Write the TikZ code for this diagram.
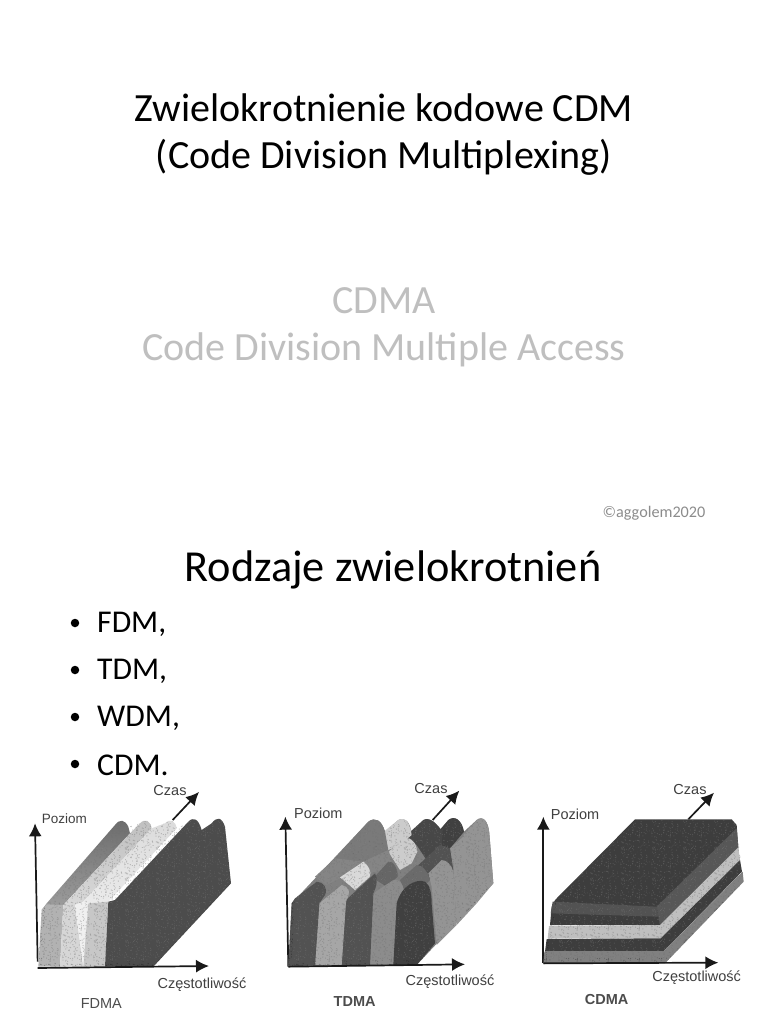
\documentclass[tikz,border=0pt]{standalone}
\usepackage{fontspec}
\setmainfont{Carlito}
\newfontfamily\arialf{Liberation Sans}
\usetikzlibrary{arrows.meta,patterns}
\definecolor{gA}{gray}{0.75}
\pgfmathsetseed{7}
\pgfdeclarepatternformonly{grainp}{\pgfqpoint{0pt}{0pt}}{\pgfqpoint{31pt}{31pt}}{\pgfqpoint{31pt}{31pt}}{%
 \foreach \i in {1,...,130}{
  \pgfmathsetmacro{\gx}{rnd*30}\pgfmathsetmacro{\gy}{rnd*30}
  \pgfpathrectangle{\pgfpoint{\gx pt}{\gy pt}}{\pgfqpoint{.9pt}{.9pt}}
 }
 \pgfusepath{fill}
}
\tikzset{x=1pt,y=-1pt,
 title/.style={font=\fontsize{40}{46}\selectfont,text=black,inner sep=0,anchor=center},
 sub/.style={font=\fontsize{40}{46}\selectfont,text=gA,inner sep=0,anchor=center},
 bullettext/.style={font=\fontsize{31.7}{36}\selectfont,text=black,inner sep=0,anchor=west},
 bulletmark/.style={circle,fill=black,inner sep=0,minimum size=8.5pt},
 axlabel/.style={font=\arialf\fontsize{14.5}{17}\selectfont,text=black!75,inner sep=0,anchor=center},
 panelname/.style={font=\arialf\fontsize{14.5}{17}\selectfont,text=black!70,inner sep=0,anchor=center},
 axis/.style={draw=black!90,line width=1.7pt,-{Latex[length=13pt,width=13pt]}},
 panel/.style={scale=1/3},
 grainy/.style={pattern=grainp,pattern color=black,opacity=.25},
 grainw/.style={pattern=grainp,pattern color=white,opacity=.18,shift={(11pt,17pt)}}
}
\begin{document}
\begin{tikzpicture}
\useasboundingbox (0,0) rectangle (768,1024);
\fill[white] (0,0) rectangle (768,1024);
\node[title] (t1) at (384,108) {Zwielokrotnienie kodowe CDM};
\node[title] (t2) at (384,157) {(Code Division Multiplexing)};
\node[sub] (s1) at (384,301) {CDMA};
\node[sub] (s2) at (384,350) {Code Division Multiple Access};
\node[font=\fontsize{16.2}{19}\selectfont,text=black!45,inner sep=0] (c) at (654,513) {©aggolem2020};
\node[title,font=\fontsize{44.3}{50}\selectfont] (t3) at (393,570) {Rodzaje zwielokrotnień};
\foreach \n/\y/\s in {a/624/FDM\char44,b/671/TDM\char44,c/718/WDM\char44,d/765/CDM.}{
 \node[bulletmark] (m\n) at (75,\y-1) {};
 \node[bullettext] (b\n) at (97,\y) {\s};
}
% FDMA
\begin{scope}[shift={(0,770)},panel]
\node[axlabel,font=\arialf\fontsize{13.5}{16}\selectfont] (p1) at (193,146) {Poziom};
\node[axlabel] (z1) at (510,60) {Czas};
\node[axlabel] (f1) at (606,644) {Częstotliwość};
\node[panelname] (n1) at (304,700) {FDMA};
\coordinate (o1a) at (113,575); \coordinate (o1b) at (105,160);
\coordinate (x1a) at (113,594); \coordinate (x1b) at (627,588);
\coordinate (c1a) at (518,150); \coordinate (c1b) at (597,66);
\draw[axis] (o1a) -- (o1b);
\draw[axis] (c1a) -- (c1b);
\shade[top color=black!58,bottom color=black!38] (125,420) -- (140,400) -- (345,165) .. controls (360,145) and (375,150) .. (385,170) -- (390,190) -- (190,405) -- cycle;
\fill[black!30] (115,590) -- (125,420) -- (140,403) -- (190,405) -- (180,590) -- cycle;
\shade[top color=black!25,bottom color=black!15] (190,405) -- (390,190) -- (420,160) .. controls (435,145) and (450,150) .. (455,175) -- (250,395) -- (225,405) -- cycle;
\fill[black!16] (180,590) -- (190,405) -- (225,405) -- (250,590) -- cycle;
\fill[black!6] (225,405) -- (250,590) -- (255,590) -- (265,400) -- (250,395) -- cycle;
\shade[top color=black!14,bottom color=black!8] (250,395) -- (455,175) -- (495,160) .. controls (510,145) and (525,150) .. (530,175) -- (325,395) -- (265,400) -- cycle;
\fill[black!22] (250,590) -- (265,400) -- (325,395) -- (315,590) -- cycle;
\fill[black!70] (315,590) -- (325,395) -- (345,390) -- (565,155) .. controls (580,140) and (595,145) .. (605,180) -- (635,160) .. controls (650,140) and (665,140) .. (675,170) -- (693,340) -- (460,590) -- cycle;
\foreach \gs in {grainy,grainw}{
 \path[\gs] (115,590) -- (125,420) -- (345,165) .. controls (360,145) and (375,150) .. (385,170) -- (420,160) .. controls (435,145) and (450,150) .. (455,175) -- (495,160) .. controls (510,145) and (525,150) .. (530,175) -- (565,155) .. controls (580,140) and (595,145) .. (605,180) -- (635,160) .. controls (650,140) and (665,140) .. (675,170) -- (693,340) -- (460,590) -- cycle;
}
\draw[axis] (x1a) -- (x1b);
\end{scope}
% TDMA
\begin{scope}[shift={(260,770)},panel]
\node[axlabel] (p2) at (175,130) {Poziom};
\node[axlabel] (z2) at (513,55) {Czas};
\node[axlabel] (f2) at (570,636) {Częstotliwość};
\node[panelname,font=\arialf\bfseries\fontsize{14.5}{17}\selectfont] (n2) at (284,696) {TDMA};
\coordinate (o2a) at (85,590); \coordinate (o2b) at (76,140);
\coordinate (x2a) at (85,590); \coordinate (x2b) at (615,583);
\coordinate (c2a) at (518,150); \coordinate (c2b) at (598,62);
\draw[axis] (o2a) -- (o2b);
\draw[axis] (c2a) -- (c2b);
% common body
\fill[black!50] (85,590) -- (95,400) -- (325,155) .. controls (345,140) and (365,150) .. (375,185) -- (415,150) .. controls (435,140) and (450,155) .. (455,190) -- (490,150) .. controls (510,140) and (530,160) .. (540,180) -- (565,150) .. controls (585,135) and (605,150) .. (612,185) -- (650,150) .. controls (670,135) and (685,155) .. (688,190) -- (700,340) -- (470,585) -- cycle;
\fill[black!42] (610,195) -- (650,150) .. controls (670,135) and (685,155) .. (688,190) -- (700,340) -- (650,400) -- (640,240) -- cycle;
\fill[black!75] (535,185) -- (565,150) .. controls (585,135) and (605,150) .. (612,185) -- (570,235) -- (540,225) -- cycle;
\fill[black!72] (440,195) -- (490,150) .. controls (510,140) and (530,160) .. (548,185) -- (545,225) -- (500,270) -- (470,225) -- cycle;
\fill[black!20] (365,190) -- (415,150) .. controls (435,140) and (450,155) .. (455,195) -- (420,225) -- (385,240) -- cycle;
\fill[black!52] (225,265) -- (325,155) .. controls (345,140) and (365,150) .. (375,185) -- (385,240) -- (310,275) -- (260,290) -- cycle;
\fill[black!42] (570,235) -- (610,200) .. controls (625,205) and (640,225) .. (640,250) -- (650,400) -- (590,465) -- (580,300) -- cycle;
\fill[black!68] (470,290) -- (540,225) -- (570,235) -- (580,300) -- (510,330) -- cycle;
\fill[black!20] (385,245) -- (440,205) .. controls (460,205) and (470,225) .. (472,245) -- (455,280) -- (420,300) -- cycle;
\fill[black!48] (165,320) -- (225,265) -- (310,275) -- (385,240) -- (400,290) -- (330,310) -- (240,325) -- (200,345) -- cycle;
\fill[black!15] (240,322) -- (310,275) .. controls (325,285) and (335,305) .. (330,320) -- (285,360) -- cycle;
\fill[black!42] (505,310) -- (545,270) .. controls (560,270) and (575,285) .. (580,305) -- (590,465) -- (530,525) -- (515,350) -- cycle;
\fill[black!58] (420,330) -- (470,285) .. controls (490,285) and (505,310) .. (510,330) -- (495,345) -- (440,375) -- cycle;
\fill[black!60] (340,325) -- (385,275) .. controls (400,270) and (415,300) .. (413,320) -- (380,350) -- cycle;
\fill[black!45] (330,585) -- (340,370) -- (400,330) .. controls (420,325) and (430,345) .. (430,360) -- (410,400) -- (400,585) -- cycle;
\fill[black!68] (245,585) -- (258,390) -- (345,310) .. controls (355,325) and (350,350) .. (340,370) -- (330,585) -- cycle;
\fill[black!35] (165,585) -- (178,400) -- (245,345) .. controls (265,350) and (275,360) .. (258,395) -- (245,585) -- cycle;
\fill[black!68] (85,590) -- (95,400) -- (105,385) -- (170,335) .. controls (190,335) and (205,355) .. (195,375) -- (178,400) -- (165,585) -- cycle;
\fill[black!75] (400,585) -- (410,400) .. controls (425,345) and (470,325) .. (495,335) .. controls (510,345) and (515,370) .. (515,400) -- (525,520) -- (470,585) -- cycle;
\foreach \gs in {grainy,grainw}{
 \path[\gs] (85,590) -- (95,400) -- (325,155) .. controls (345,140) and (365,150) .. (375,185) -- (415,150) .. controls (435,140) and (450,155) .. (455,190) -- (490,150) .. controls (510,140) and (530,160) .. (540,180) -- (565,150) .. controls (585,135) and (605,150) .. (612,185) -- (650,150) .. controls (670,135) and (685,155) .. (688,190) -- (700,340) -- (470,585) -- cycle;
}
\draw[axis] (x2a) -- (x2b);
\end{scope}
% CDMA
\begin{scope}[shift={(510,770)},panel]
\node[axlabel] (p3) at (195,132) {Poziom};
\node[axlabel] (z3) at (540,58) {Czas};
\node[axlabel] (f3) at (560,622) {Częstotliwość};
\node[panelname,font=\arialf\bfseries\fontsize{14.5}{17}\selectfont] (n3) at (290,688) {CDMA};
\coordinate (o3a) at (100,580); \coordinate (o3b) at (100,140);
\coordinate (x3a) at (100,580); \coordinate (x3b) at (625,578);
\coordinate (c3a) at (535,148); \coordinate (c3b) at (612,68);
\draw[axis] (o3a) -- (o3b);
\draw[axis] (c3a) -- (c3b);
\fill[black!76] (135,390) -- (375,148) -- (665,148) -- (680,165) -- (685,235) -- (450,465) -- (120,465) -- (125,410) -- cycle;
\fill[black!66] (450,465) -- (685,232) -- (680,175) -- (440,410) -- cycle;
\fill[black!68] (128,395) -- (440,410) -- (445,440) -- (122,430) -- cycle;
\fill[black!25] (117,468) -- (450,465) -- (685,232) -- (690,270) -- (452,505) -- (113,505) -- cycle;
\fill[black!76] (110,507) -- (452,505) -- (690,270) -- (696,305) -- (460,545) -- (105,545) -- cycle;
\fill[black!50] (103,545) -- (460,545) -- (698,305) -- (701,335) -- (465,580) -- (100,582) -- cycle;
\foreach \gs in {grainy,grainw}{
 \path[\gs] (135,390) -- (375,148) -- (665,148) -- (680,165) -- (701,335) -- (465,580) -- (100,582) -- (120,465) -- cycle;
}
\draw[axis] (x3a) -- (x3b);
\end{scope}
\end{tikzpicture}
\end{document}
